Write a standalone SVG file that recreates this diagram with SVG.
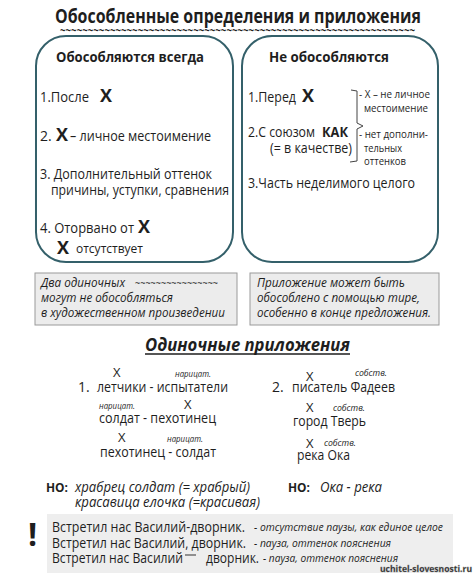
<svg xmlns="http://www.w3.org/2000/svg" width="474" height="576" viewBox="0 0 474 576">
<style>
text{font-family:"Open Sans","Noto Sans","DejaVu Sans",sans-serif;fill:#1e1e1e;}
.b{font-weight:bold;}
.i{font-style:italic;}
.t14{font-size:14px;}
.t13{font-size:13px;}
.t12{font-size:12px;}
.t10{font-size:10px;}
.t9{font-size:8.5px;}
.bx{font-weight:bold;font-size:18px;}
.box{fill:#ffffff;stroke:#34606a;stroke-width:2;}
.note{fill:#ececec;stroke:#9a9a9a;stroke-width:1;}
</style>
<rect width="474" height="576" fill="#ffffff"/>
<g id="title">
<text x="55" y="23" class="b" font-size="19.5" textLength="366" lengthAdjust="spacingAndGlyphs">Обособленные определения и приложения</text>
<text x="60" y="34" class="b" font-size="10" textLength="355" lengthAdjust="spacingAndGlyphs">~~~~~~~~~~~~~~~~~~~~~~~~~~~~~~~~~~~~~~~~~~~~~~~~~~~~~~~~~~~~~~~~</text>
</g>
<g id="always">
<rect class="box" x="36" y="36" width="197" height="226" rx="30" ry="30"/>
<text x="56" y="62" class="b t14" textLength="148" lengthAdjust="spacingAndGlyphs">Обособляются всегда</text>
<text x="40" y="102" class="t14" textLength="49" lengthAdjust="spacingAndGlyphs">1.После</text>
<text x="100" y="102" class="bx">X</text>
<text x="40" y="141" class="t14">2.</text>
<text x="56" y="141" class="bx">X</text>
<text x="70" y="141" class="t14" textLength="141" lengthAdjust="spacingAndGlyphs">– личное местоимение</text>
<text x="40" y="179" class="t14" textLength="172" lengthAdjust="spacingAndGlyphs">3. Дополнительный оттенок</text>
<text x="51" y="195" class="t14" textLength="178" lengthAdjust="spacingAndGlyphs">причины, уступки, сравнения</text>
<text x="40" y="233" class="t14" textLength="94" lengthAdjust="spacingAndGlyphs">4. Оторвано от</text>
<text x="138" y="233" class="bx">X</text>
<text x="57" y="254" class="bx">X</text>
<text x="76" y="253" class="t13" textLength="67" lengthAdjust="spacingAndGlyphs">отсутствует</text>
</g>
<g id="never">
<rect class="box" x="242" y="36" width="196" height="226" rx="30" ry="30"/>
<text x="269" y="62" class="b t14" textLength="120" lengthAdjust="spacingAndGlyphs">Не обособляются</text>
<text x="248" y="102" class="t14" textLength="48" lengthAdjust="spacingAndGlyphs">1.Перед</text>
<text x="302" y="102" class="bx">X</text>
<text x="248" y="137" class="t14" textLength="67" lengthAdjust="spacingAndGlyphs">2.С союзом</text>
<text x="322" y="137" class="b t14" textLength="26" lengthAdjust="spacingAndGlyphs">КАК</text>
<text x="270" y="153" class="t14" textLength="82" lengthAdjust="spacingAndGlyphs">(= в качестве)</text>
<text x="248" y="188" class="t14" textLength="167" lengthAdjust="spacingAndGlyphs">3.Часть неделимого целого</text>
<path d="M351,90 L357,91 L357,123 L363,126 L357,129 L357,161 L350,162" fill="none" stroke="#444" stroke-width="1"/>
<text x="359" y="98" class="t10" textLength="71" lengthAdjust="spacingAndGlyphs">- X – не личное</text>
<text x="364" y="112" class="t10" textLength="64" lengthAdjust="spacingAndGlyphs">местоимение</text>
<text x="359" y="138" class="t10" textLength="69" lengthAdjust="spacingAndGlyphs">- нет дополни-</text>
<text x="364" y="152" class="t10" textLength="38" lengthAdjust="spacingAndGlyphs">тельных</text>
<text x="364" y="165" class="t10" textLength="42" lengthAdjust="spacingAndGlyphs">оттенков</text>
</g>
<g id="note-left">
<rect class="note" x="35" y="273" width="202" height="52"/>
<text x="41" y="287" class="i t12" textLength="84" lengthAdjust="spacingAndGlyphs">Два одиночных</text>
<text x="135" y="287" class="t10" textLength="83" lengthAdjust="spacingAndGlyphs">~~~~~~~~~~~~~~~~</text>
<text x="41" y="302" class="i t12" textLength="132" lengthAdjust="spacingAndGlyphs">могут не обособляться</text>
<text x="41" y="317" class="i t12" textLength="184" lengthAdjust="spacingAndGlyphs">в художественном произведении</text>
</g>
<g id="note-right">
<rect class="note" x="250" y="273" width="189" height="52"/>
<text x="257" y="287" class="i t12" textLength="148" lengthAdjust="spacingAndGlyphs">Приложение может быть</text>
<text x="257" y="302" class="i t12" textLength="163" lengthAdjust="spacingAndGlyphs">обособлено с помощью тире,</text>
<text x="257" y="317" class="i t12" textLength="174" lengthAdjust="spacingAndGlyphs">особенно в конце предложения.</text>
</g>
<g id="single-title">
<text x="145" y="351" class="b i" font-size="18" textLength="205" lengthAdjust="spacingAndGlyphs">Одиночные приложения</text>
<line x1="145" y1="354" x2="350" y2="354" stroke="#1e1e1e" stroke-width="1.3"/>
</g>
<g id="common">
<text x="113" y="377" class="t13">X</text>
<text x="175" y="377" class="i t9" textLength="36" lengthAdjust="spacingAndGlyphs">нарицат.</text>
<text x="78" y="392" class="t14">1.</text>
<text x="97" y="392" class="t14" textLength="131" lengthAdjust="spacingAndGlyphs">летчики - испытатели</text>
<text x="99" y="409" class="i t9" textLength="36" lengthAdjust="spacingAndGlyphs">нарицат.</text>
<text x="184" y="409" class="t13">X</text>
<text x="99" y="423" class="t14" textLength="117" lengthAdjust="spacingAndGlyphs">солдат - пехотинец</text>
<text x="118" y="442" class="t13">X</text>
<text x="167" y="442" class="i t9" textLength="36" lengthAdjust="spacingAndGlyphs">нарицат.</text>
<text x="100" y="457" class="t14" textLength="116" lengthAdjust="spacingAndGlyphs">пехотинец - солдат</text>
</g>
<g id="proper">
<text x="306" y="381" class="t13">X</text>
<text x="355" y="376" class="i t9" textLength="32" lengthAdjust="spacingAndGlyphs">собств.</text>
<text x="272" y="392" class="t14">2.</text>
<text x="292" y="392" class="t14" textLength="103" lengthAdjust="spacingAndGlyphs">писатель Фадеев</text>
<text x="306" y="412" class="t13">X</text>
<text x="333" y="411" class="i t9" textLength="32" lengthAdjust="spacingAndGlyphs">собств.</text>
<text x="293" y="426" class="t14" textLength="73" lengthAdjust="spacingAndGlyphs">город Тверь</text>
<text x="306" y="448" class="t13">X</text>
<text x="324" y="446" class="i t9" textLength="32" lengthAdjust="spacingAndGlyphs">собств.</text>
<text x="297" y="460" class="t14" textLength="53" lengthAdjust="spacingAndGlyphs">река Ока</text>
</g>
<g id="but">
<text x="46" y="492" class="b t13" textLength="22" lengthAdjust="spacingAndGlyphs">НО:</text>
<text x="75" y="492" class="i t14" textLength="175" lengthAdjust="spacingAndGlyphs">храбрец солдат (= храбрый)</text>
<text x="75" y="507" class="i t14" textLength="185" lengthAdjust="spacingAndGlyphs">красавица елочка (=красивая)</text>
<text x="288" y="492" class="b t13" textLength="22" lengthAdjust="spacingAndGlyphs">НО:</text>
<text x="320" y="492" class="i t14" textLength="62" lengthAdjust="spacingAndGlyphs">Ока - река</text>
</g>
<g id="examples">
<rect x="47" y="514" width="406" height="59" fill="#eeeeee"/>
<text x="28" y="546" class="b" font-size="32">!</text>
<text x="52" y="532" class="t14" textLength="193" lengthAdjust="spacingAndGlyphs">Встретил нас Василий-дворник.</text>
<text x="254" y="531" class="i t10" textLength="189" lengthAdjust="spacingAndGlyphs">- отсутствие паузы, как единое целое</text>
<text x="52" y="548" class="t14" textLength="194" lengthAdjust="spacingAndGlyphs">Встретил нас Василий, дворник.</text>
<text x="254" y="547" class="i t10" textLength="137" lengthAdjust="spacingAndGlyphs">- пауза, оттенок пояснения</text>
<text x="52" y="563" class="t14" textLength="131" lengthAdjust="spacingAndGlyphs">Встретил нас Василий</text>
<line x1="185" y1="555" x2="196" y2="555" stroke="#333" stroke-width="1"/>
<text x="206" y="563" class="t14" textLength="53" lengthAdjust="spacingAndGlyphs">дворник.</text>
<text x="263" y="562" class="i t10" textLength="135" lengthAdjust="spacingAndGlyphs">- пауза, оттенок пояснения</text>
<text x="380" y="572" class="b" font-size="9" fill="#444" stroke="#888" stroke-width="0.3" textLength="92" lengthAdjust="spacingAndGlyphs">uchitel-slovesnosti.ru</text>
</g>
</svg>
